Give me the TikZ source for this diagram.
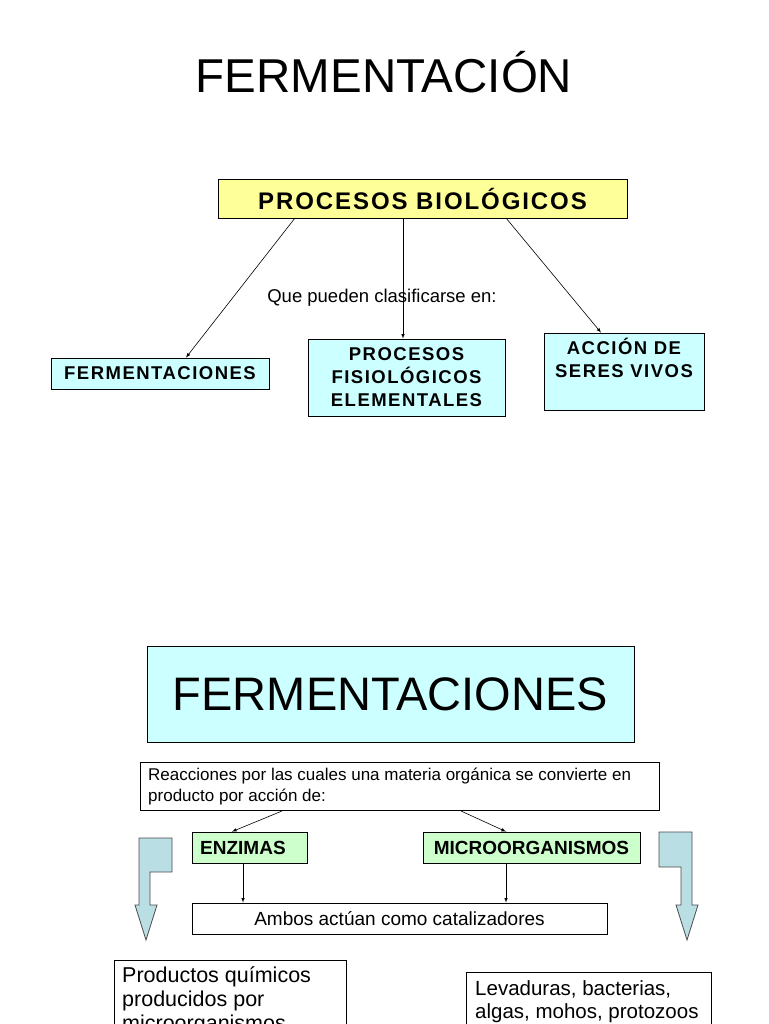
\documentclass[tikz,border=0pt]{standalone}
\usepackage{fontspec}
\setmainfont{Liberation Sans}
\newfontfamily\spaced[LetterSpace=8]{Liberation Sans}
\begin{document}
\begin{tikzpicture}[x=1pt,y=-1pt,
  box/.style={draw,line width=0.8pt,inner sep=0pt,align=center},
  arr/.style={-latex,line width=0.6pt},
  blk/.style={draw=gray!60!black,fill={rgb,255:red,185;green,222;blue,228},line width=0.8pt}]
\clip (0,0) rectangle (768,1024);
\fill[white] (0,0) rectangle (768,1024);
\node[font=\fontsize{47.5}{50}\selectfont] (title) at (384,72) {FERMENTACIÓN};
\node[box,fill={rgb,255:red,255;green,255;blue,153},minimum width=409,minimum height=39,font=\fontsize{24}{26}\selectfont\spaced\bfseries] (pb) at (422.5,198.5) {PROCESOS BIOLÓGICOS};
\node[font=\fontsize{18.5}{20}\selectfont] (que) at (382,298) {Que pueden clasificarse en:};
\tikzset{cy/.style={box,fill={rgb,255:red,204;green,255;blue,255}},
  bs/.style={font=\fontsize{18.5}{23}\selectfont\spaced\bfseries}}
\node[cy,bs,minimum width=218,minimum height=31] (f1) at (160,373.5) {FERMENTACIONES};
\node[cy,bs,minimum width=197,minimum height=77] (pfe) at (406.5,377.5) {PROCESOS\\FISIOLÓGICOS\\ELEMENTALES};
\node[cy,minimum width=160,minimum height=77] (acc) at (624,371.5) {};
\node[bs,align=center] (acct) at (624,358) {ACCIÓN DE\\SERES VIVOS};
\draw[arr] (295,218) -- (f1.north -| 186,0);
\draw[arr] (pb.south -| 403,0) -- (pfe.north -| 403,0);
\draw[arr] (506,218) -- (acc.north -| 601,0);
\node[cy,minimum width=487,minimum height=96,font=\fontsize{47}{50}\selectfont] (f2) at (390.5,694) {FERMENTACIONES};
\node[box,minimum width=519,minimum height=48] (rea) at (399.5,786) {};
\node[anchor=west,align=left,inner sep=0pt,font=\fontsize{17}{21}\selectfont] (reat) at (148,786) {Reacciones por las cuales una materia orgánica se convierte en\\producto por acción de:};
\tikzset{gr/.style={box,fill={rgb,255:red,204;green,255;blue,204},font=\fontsize{19}{21}\selectfont\bfseries}}
\node[gr,minimum width=115,minimum height=31] (enz) at (249.5,847.5) {};
\node[anchor=west,inner sep=0pt,font=\fontsize{19}{21}\selectfont\bfseries] (enzt) at (200,847.5) {ENZIMAS};
\node[gr,minimum width=217,minimum height=31] (mic) at (531.5,847.5) {MICROORGANISMOS};
\draw[arr] (282,811) -- (enz.north -| 232,0);
\draw[arr] (461,811) -- (mic.north -| 506,0);
\node[box,minimum width=415,minimum height=31,font=\fontsize{19}{21}\selectfont] (amb) at (399.5,918.5) {Ambos actúan como catalizadores};
\draw[arr] (enz.south -| 243,0) -- (amb.north -| 243,0);
\draw[arr] (mic.south -| 506,0) -- (amb.north -| 506,0);
\draw[blk] (139,838) -- (172,838) -- (172,872) -- (150,872) -- (150,905) -- (157,905) -- (146,940) -- (135,905) -- (139,905) -- cycle;
\draw[blk] (659,832) -- (692,832) -- (692,905) -- (698,905) -- (687,940) -- (676,905) -- (681,905) -- (681,867) -- (659,867) -- cycle;
\node[box,minimum width=232,minimum height=90,anchor=north west] (prod) at (114,960) {};
\node[anchor=north west,align=left,inner sep=0pt,font=\fontsize{21.5}{24}\selectfont] (prodt) at (122,966) {Productos químicos\\producidos por\\microorganismos};
\node[box,minimum width=245,minimum height=80,anchor=north west] (lev) at (466,972) {};
\node[anchor=north west,align=left,inner sep=0pt,font=\fontsize{20.5}{23}\selectfont] (levt) at (475,980) {Levaduras, bacterias,\\algas, mohos, protozoos};
\end{tikzpicture}
\end{document}
